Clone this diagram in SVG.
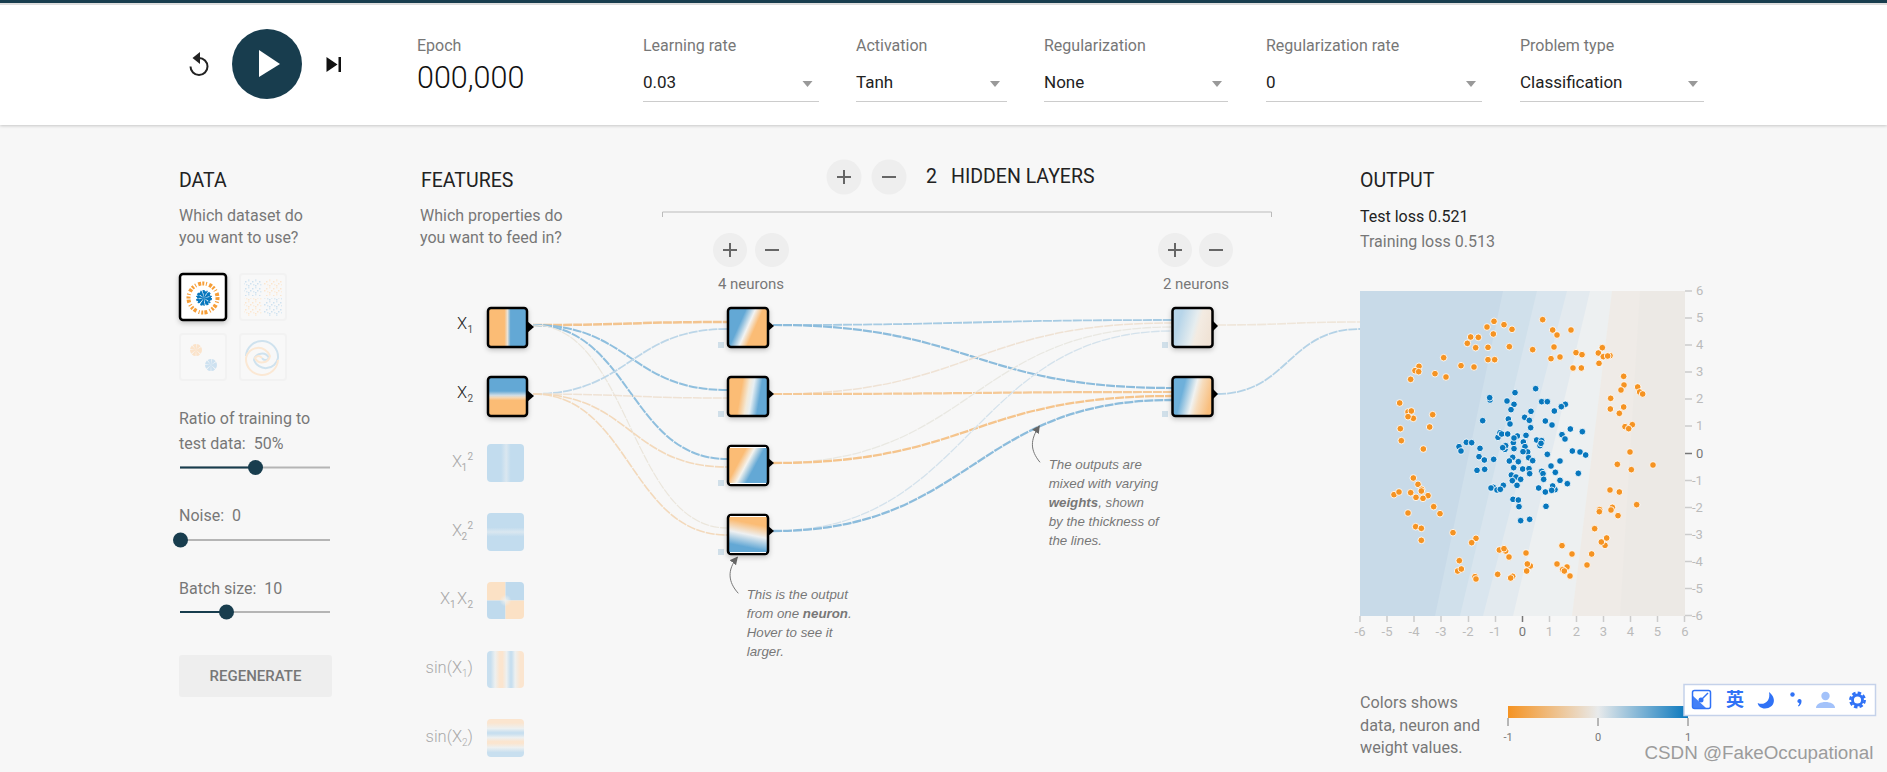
<svg xmlns="http://www.w3.org/2000/svg" width="1887" height="772" viewBox="0 0 1887 772">
<style>
text{font-family:Roboto,"Liberation Sans",sans-serif;fill:#777}
.lab{font-size:16px}
.val{font-size:17px;fill:#222}
.title{font-size:19.500px;fill:#222}
.sub{font-size:16px}
.ul{stroke:#ccc;stroke-width:1}
.ar{fill:#999}
.btn{fill:#eee}
.pm{stroke:#666;stroke-width:2}
.node{stroke:#000;stroke-width:2.5}
.tip{fill:#000}
.sq{fill:#d0dfe9}
.fl{font-size:16.500px;fill:#aaa;font-weight:300}
.fs{font-size:10px;fill:#aaa}
.on{fill:#222}
.note{font-family:"Liberation Sans",sans-serif;font-size:13.300px;font-style:italic;fill:#777}
.note tspan.w{font-weight:700}
.cl{fill:none;stroke:#777;stroke-width:1}
.lk{fill:none;stroke-dasharray:9 1}
.ax{font-size:13px;fill:#bbb}
.tk{stroke:#ccc;stroke-width:1.5}
.o{fill:#f59322;stroke:#fff;stroke-width:3;stroke-opacity:.85}
.b{fill:#0877bd;stroke:#fff;stroke-width:3;stroke-opacity:.85}
.wi{fill:#3072f6}
.leg{font-size:16.200px}
.lt{font-size:11px;text-anchor:middle}
.th{fill:#f8f8f8;stroke:#f2f2f2;stroke-width:2}
</style>
<defs>
<filter id="sh" x="-30%" y="-30%" width="160%" height="170%"><feDropShadow dx="0" dy="2" stdDeviation="2.5" flood-color="#000" flood-opacity=".22"/></filter>
<filter id="hs" x="-5%" y="-20%" width="110%" height="150%"><feDropShadow dx="0" dy="1" stdDeviation="1.5" flood-color="#000" flood-opacity=".2"/></filter>
<linearGradient id="gx1" x1="0" y1="0" x2="1" y2="0"><stop offset=".42" stop-color="#fbbc75"/><stop offset=".5" stop-color="#e8e2d8"/><stop offset=".58" stop-color="#63a8d5"/></linearGradient>
<linearGradient id="gx2" x1="0" y1="0" x2="0" y2="1"><stop offset=".36" stop-color="#63a8d5"/><stop offset=".47" stop-color="#cfdde6"/><stop offset=".53" stop-color="#f6d7b3"/><stop offset=".6" stop-color="#fbbc75"/></linearGradient>
<linearGradient id="ga" x1=".025" y1=".3" x2=".945" y2=".7"><stop offset=".28" stop-color="#63a8d5"/><stop offset=".5" stop-color="#f2f3f2"/><stop offset=".68" stop-color="#fbbc75"/></linearGradient>
<linearGradient id="gb" x1=".03" y1=".42" x2="1" y2=".58"><stop offset=".28" stop-color="#fbbc75"/><stop offset=".47" stop-color="#f3ead9"/><stop offset=".58" stop-color="#e6eff3"/><stop offset=".78" stop-color="#63a8d5"/></linearGradient>
<linearGradient id="gc" x1="0" y1=".27" x2=".88" y2=".73"><stop offset=".3" stop-color="#fbbc75"/><stop offset=".5" stop-color="#f4f3ee"/><stop offset=".72" stop-color="#63a8d5"/></linearGradient>
<linearGradient id="gd" x1=".6" y1="0" x2=".4" y2=".96"><stop offset=".22" stop-color="#fbbc75"/><stop offset=".52" stop-color="#eef0f1"/><stop offset=".85" stop-color="#63a8d5"/></linearGradient>
<linearGradient id="ge" x1=".06" y1=".37" x2="1" y2=".63"><stop offset=".1" stop-color="#b7d5e9"/><stop offset=".5" stop-color="#e6edef"/><stop offset=".62" stop-color="#f3ebe2"/><stop offset=".95" stop-color="#f0e3d6"/></linearGradient>
<linearGradient id="gf" x1=".04" y1=".38" x2="1" y2=".62"><stop offset=".2" stop-color="#6eb0da"/><stop offset=".5" stop-color="#f0f2f1"/><stop offset=".65" stop-color="#f7dcbc"/><stop offset=".95" stop-color="#f9be7d"/></linearGradient>
<linearGradient id="gs1" x1="0" y1="0" x2="1" y2="0"><stop offset=".38" stop-color="#c2dcee"/><stop offset=".52" stop-color="#dae7f0"/><stop offset=".64" stop-color="#c2dcee"/></linearGradient>
<linearGradient id="gs2" x1="0" y1="0" x2="0" y2="1"><stop offset=".38" stop-color="#c2dcee"/><stop offset=".5" stop-color="#dae7f0"/><stop offset=".62" stop-color="#c2dcee"/></linearGradient>
<linearGradient id="gs3" x1="0" y1="0" x2="1" y2="0"><stop offset=".1" stop-color="#c8dfef"/><stop offset=".22" stop-color="#edf0f0"/><stop offset=".34" stop-color="#fbe5cf"/><stop offset=".42" stop-color="#fbe5cf"/><stop offset=".53" stop-color="#edf0f0"/><stop offset=".63" stop-color="#c8dfef"/><stop offset=".67" stop-color="#c8dfef"/><stop offset=".76" stop-color="#edf0f0"/><stop offset=".9" stop-color="#fbe5cf"/></linearGradient>
<linearGradient id="gs4" x1="0" y1="0" x2="0" y2="1"><stop offset=".1" stop-color="#fbe5cf"/><stop offset=".25" stop-color="#edf0f0"/><stop offset=".35" stop-color="#c8dfef"/><stop offset=".39" stop-color="#c8dfef"/><stop offset=".49" stop-color="#edf0f0"/><stop offset=".59" stop-color="#fbe5cf"/><stop offset=".64" stop-color="#fbe5cf"/><stop offset=".75" stop-color="#edf0f0"/><stop offset=".88" stop-color="#c8dfef"/></linearGradient>
<radialGradient id="gcc"><stop offset="0" stop-color="#eef0ee"/><stop offset="1" stop-color="#eef0ee" stop-opacity="0"/></radialGradient>
<linearGradient id="leg" x1="0" y1="0" x2="1" y2="0"><stop offset="0" stop-color="#f59322"/><stop offset=".5" stop-color="#e8eaeb"/><stop offset="1" stop-color="#0877bd"/></linearGradient>
<clipPath id="cp"><rect x="487" y="582" width="37" height="37" rx="4"/></clipPath>
<pattern id="pb" width="7" height="7" patternUnits="userSpaceOnUse"><rect x="0" y="1" width="1.5" height="1.5" fill="#cfe2f0"/><rect x="3" y="0" width="1.5" height="1.5" fill="#dbe9f3"/><rect x="5" y="3" width="1.5" height="1.5" fill="#cfe2f0"/><rect x="1" y="4" width="1.5" height="1.5" fill="#dbe9f3"/><rect x="3" y="5" width="1.5" height="1.5" fill="#cfe2f0"/></pattern>
<pattern id="po" width="7" height="7" patternUnits="userSpaceOnUse"><rect x="0" y="1" width="1.5" height="1.5" fill="#fbe6cf"/><rect x="3" y="0" width="1.5" height="1.5" fill="#fceedd"/><rect x="5" y="3" width="1.5" height="1.5" fill="#fbe6cf"/><rect x="1" y="4" width="1.5" height="1.5" fill="#fceedd"/><rect x="3" y="5" width="1.5" height="1.5" fill="#fbe6cf"/></pattern>
<marker id="ah" markerWidth="9" markerHeight="9" refX="7" refY="4" orient="auto" markerUnits="userSpaceOnUse"><path d="M0 0L8 4L0 8Z" fill="#666"/></marker>
</defs>
<rect width="1887" height="772" fill="#f7f7f7"/>
<g id="header">
<rect width="1887" height="125" fill="#fff" filter="url(#hs)"/>
<rect width="1887" height="3" fill="#183d4e"/>
<rect y="3" width="1887" height="2" fill="#ddd"/>
<path d="M199 58A8.5 8.5 0 1 1 190.5 66.5" fill="none" stroke="#222" stroke-width="2"/>
<path d="M200 52L192.5 58L200 64Z" fill="#222"/>
<circle cx="267" cy="64" r="35" fill="#183d4e"/>
<path d="M259 50L280 64L259 77Z" fill="#fff"/>
<path d="M326.500 57L337.500 64.500L326.500 72Z" fill="#111"/><rect x="338.500" y="57" width="2.500" height="15" fill="#111"/>
<text class="lab" x="417" y="51">Epoch</text>
<text x="417" y="88" style="font-size:30.500px;font-weight:300;fill:#111">000,000</text>
<text class="lab" x="643" y="51">Learning rate</text><text class="val" x="643" y="88">0.03</text><line class="ul" x1="643" y1="101.500" x2="819" y2="101.500"/><path class="ar" d="M802.500 81H812.500L807.500 87Z"/>
<text class="lab" x="856" y="51">Activation</text><text class="val" x="856" y="88">Tanh</text><line class="ul" x1="856" y1="101.500" x2="1007" y2="101.500"/><path class="ar" d="M990 81H1000L995 87Z"/>
<text class="lab" x="1044" y="51">Regularization</text><text class="val" x="1044" y="88">None</text><line class="ul" x1="1044" y1="101.500" x2="1228" y2="101.500"/><path class="ar" d="M1212 81H1222L1217 87Z"/>
<text class="lab" x="1266" y="51">Regularization rate</text><text class="val" x="1266" y="88">0</text><line class="ul" x1="1266" y1="101.500" x2="1482" y2="101.500"/><path class="ar" d="M1466 81H1476L1471 87Z"/>
<text class="lab" x="1520" y="51">Problem type</text><text class="val" x="1520" y="88">Classification</text><line class="ul" x1="1520" y1="101.500" x2="1704" y2="101.500"/><path class="ar" d="M1688 81H1698L1693 87Z"/>
</g>
<g id="data-panel">
<text class="title" x="179" y="187">DATA</text>
<text class="sub" x="179" y="221">Which dataset do</text>
<text class="sub" x="179" y="243">you want to use?</text>
<g id="thumb-circle">
<rect x="180" y="274" width="46" height="46" rx="3" fill="#fff" stroke="#000" stroke-width="2.500" filter="url(#sh)"/>
<circle cx="203" cy="298" r="14.500" fill="none" stroke="#f59322" stroke-width="4" stroke-dasharray="2 1.700 1 2.300 3 1.200" opacity=".9"/>
<circle cx="204" cy="298" r="3.500" fill="none" stroke="#0877bd" stroke-width="7" stroke-dasharray="2 .6"/>
<circle cx="204" cy="298" r="6.500" fill="none" stroke="#0877bd" stroke-width="3" stroke-dasharray="2 1.700 1 1"/>
</g>
<g id="thumb-xor">
<rect class="th" x="240" y="274" width="46" height="46" rx="3"/>
<rect x="244" y="279" width="18" height="17" fill="url(#pb)"/><rect x="264" y="279" width="18" height="17" fill="url(#po)"/>
<rect x="244" y="298" width="18" height="18" fill="url(#po)"/><rect x="264" y="298" width="18" height="18" fill="url(#pb)"/>
</g>
<g id="thumb-gauss">
<rect class="th" x="180" y="334" width="46" height="46" rx="3"/>
<circle cx="196" cy="350" r="3" fill="none" stroke="#fbe3ca" stroke-width="6" stroke-dasharray="2 .4"/>
<circle cx="211" cy="365" r="3" fill="none" stroke="#cde1f0" stroke-width="6" stroke-dasharray="2 .4"/>
</g>
<g id="thumb-spiral">
<rect class="th" x="240" y="334" width="46" height="46" rx="3"/>
<path d="M246 356A16 16 0 0 1 278 358A12.500 12.500 0 0 1 254 360A8 8 0 0 1 269 358A4 4 0 0 1 262 358" fill="none" stroke="#cfe2ee" stroke-width="2"/>
<path d="M246 356A16 16 0 0 1 278 358A12.500 12.500 0 0 1 254 360A8 8 0 0 1 269 358A4 4 0 0 1 262 358" fill="none" stroke="#fbe8d4" stroke-width="2" transform="rotate(180 262 358)"/>
</g>
<text class="sub" x="179" y="424">Ratio of training to</text>
<text class="sub" x="179" y="449" xml:space="preserve">test data:  50%</text>
<line x1="180" y1="467.500" x2="330" y2="467.500" stroke="#b5b5b5" stroke-width="2"/><line x1="180" y1="467.500" x2="255" y2="467.500" stroke="#183d4e" stroke-width="2"/><circle cx="255.500" cy="467.500" r="7.500" fill="#183d4e"/>
<text class="sub" x="179" y="521" xml:space="preserve">Noise:  0</text>
<line x1="180" y1="540" x2="330" y2="540" stroke="#b5b5b5" stroke-width="2"/><circle cx="180.500" cy="540" r="7.500" fill="#183d4e"/>
<text class="sub" x="179" y="594" xml:space="preserve">Batch size:  10</text>
<line x1="180" y1="612" x2="330" y2="612" stroke="#b5b5b5" stroke-width="2"/><line x1="180" y1="612" x2="226" y2="612" stroke="#183d4e" stroke-width="2"/><circle cx="226.500" cy="612" r="7.500" fill="#183d4e"/>
<rect x="179" y="655" width="153" height="42" rx="3" fill="#eee"/>
<text x="255.500" y="681" text-anchor="middle" style="font-size:15px;font-weight:500">REGENERATE</text>
</g>
<g id="features-head">
<text class="title" x="421" y="187">FEATURES</text>
<text class="sub" x="420" y="221">Which properties do</text>
<text class="sub" x="420" y="243">you want to feed in?</text>
</g>
<g id="layers-head">
<circle class="btn" cx="844" cy="177" r="17.500"/><path class="pm" d="M837 177H851M844 170V184"/>
<circle class="btn" cx="889" cy="177" r="17.500"/><path class="pm" d="M882 177H896"/>
<text class="title" x="926" y="183">2</text>
<text class="title" x="951" y="183">HIDDEN LAYERS</text>
<path d="M662.500 217V212H1271.500V217" fill="none" stroke="#bbb" stroke-width="1"/>
<circle class="btn" cx="730" cy="250" r="17"/><path class="pm" d="M723 250H737M730 243V257"/>
<circle class="btn" cx="772" cy="250" r="17"/><path class="pm" d="M765 250H779"/>
<text x="751" y="289" text-anchor="middle" style="font-size:15px">4 neurons</text>
<circle class="btn" cx="1175" cy="250" r="17"/><path class="pm" d="M1168 250H1182M1175 243V257"/>
<circle class="btn" cx="1216" cy="250" r="17"/><path class="pm" d="M1209 250H1223"/>
<text x="1196" y="289" text-anchor="middle" style="font-size:15px">2 neurons</text>
</g>
<g id="connectors">
<path class="lk" stroke="#f3c48f" stroke-width="2.500" d="M533 325C630 325 630 322 727 322"/>
<path class="lk" stroke="#8fbfde" stroke-width="2" d="M533 325C630 325 630 390 727 390"/>
<path class="lk" stroke="#8fbfde" stroke-width="2" d="M533 325C630 325 630 459 727 459"/>
<path class="lk" stroke="#ebe6dc" stroke-width="1.200" d="M533 325C630 325 630 528 727 528"/>
<path class="lk" stroke="#bcd6e8" stroke-width="1.800" d="M533 394C630 394 630 329 727 329"/>
<path class="lk" stroke="#efe2d4" stroke-width="1.500" d="M533 394C630 394 630 398 727 398"/>
<path class="lk" stroke="#f3d9bb" stroke-width="1.600" d="M533 394C630 394 630 467 727 467"/>
<path class="lk" stroke="#f3d9bb" stroke-width="1.600" d="M533 394C630 394 630 535 727 535"/>
<path class="lk" stroke="#a6cbe3" stroke-width="1.800" d="M773 325C972 325 972 320 1172 320"/>
<path class="lk" stroke="#8cbcdc" stroke-width="2.200" d="M773 325C972 325 972 388 1172 388"/>
<path class="lk" stroke="#efe2d4" stroke-width="1.500" d="M773 394C972 394 972 323 1172 323"/>
<path class="lk" stroke="#f5c997" stroke-width="2.200" d="M773 394C972 394 972 392 1172 392"/>
<path class="lk" stroke="#e9e8e2" stroke-width="1.300" d="M773 463C972 463 972 327 1172 327"/>
<path class="lk" stroke="#f5c48c" stroke-width="2.300" d="M773 463C972 463 972 396 1172 396"/>
<path class="lk" stroke="#d4e2ec" stroke-width="1.300" d="M773 531C972 531 972 331 1172 331"/>
<path class="lk" stroke="#8cbcdc" stroke-width="2.300" d="M773 531C972 531 972 400 1172 400"/>
<path class="lk" stroke="#efe6da" stroke-width="1.600" d="M1217 325C1288 325 1288 322 1360 322"/>
<path class="lk" stroke="#b4d2e6" stroke-width="1.800" d="M1217 394C1288 394 1288 329 1360 329"/>
<path class="cl" marker-end="url(#ah)" d="M738.300 593.300C728 582 727 570 737.300 557.300"/>
<path class="cl" marker-end="url(#ah)" d="M1040 462.300C1030 450 1030 440 1039.300 426"/>
</g>
<g id="node-x1"><text class="fl on" x="467" y="329" text-anchor="end">X</text><text class="fs on" x="473" y="333" text-anchor="end" style="fill:#555">1</text>
<path class="tip" d="M527 321L534 327L527 333Z"/><rect class="node" x="488" y="308" width="39" height="39" rx="3" fill="url(#gx1)" filter="url(#sh)"/></g>
<g id="node-x2"><text class="fl on" x="467" y="398" text-anchor="end">X</text><text class="fs on" x="473" y="402" text-anchor="end" style="fill:#555">2</text>
<path class="tip" d="M527 390L534 396L527 402Z"/><rect class="node" x="488" y="377" width="39" height="39" rx="3" fill="url(#gx2)" filter="url(#sh)"/></g>
<g id="node-x1sq"><text class="fl" x="462" y="467" text-anchor="end">X</text><text class="fs" x="467" y="471" text-anchor="end">1</text><text class="fs" x="473" y="460" text-anchor="end">2</text>
<rect x="487" y="444" width="37" height="38" rx="4" fill="url(#gs1)"/></g>
<g id="node-x2sq"><text class="fl" x="462" y="536" text-anchor="end">X</text><text class="fs" x="467" y="540" text-anchor="end">2</text><text class="fs" x="473" y="529" text-anchor="end">2</text>
<rect x="487" y="513" width="37" height="38" rx="4" fill="url(#gs2)"/></g>
<g id="node-x1x2"><text class="fl" x="450" y="604" text-anchor="end">X</text><text class="fs" x="455.500" y="608" text-anchor="end">1</text><text class="fl" x="467" y="604" text-anchor="end">X</text><text class="fs" x="473" y="608" text-anchor="end">2</text>
<g clip-path="url(#cp)"><rect x="487" y="582" width="18.500" height="18.500" fill="#fbe1c5"/><rect x="505.500" y="582" width="18.500" height="18.500" fill="#bfdaed"/><rect x="487" y="600.500" width="18.500" height="18.500" fill="#bfdaed"/><rect x="505.500" y="600.500" width="18.500" height="18.500" fill="#fbe1c5"/><circle cx="505.500" cy="600.500" r="6" fill="url(#gcc)"/></g></g>
<g id="node-sinx1"><text class="fl" x="473" y="673" text-anchor="end">sin(X<tspan dy="4" font-size="10">1</tspan><tspan dy="-4">)</tspan></text>
<rect x="487" y="651" width="37" height="37" rx="4" fill="url(#gs3)"/></g>
<g id="node-sinx2"><text class="fl" x="473" y="742" text-anchor="end">sin(X<tspan dy="4" font-size="10">2</tspan><tspan dy="-4">)</tspan></text>
<rect x="487" y="719" width="37" height="38" rx="4" fill="url(#gs4)"/></g>
<g id="neuron-1-1"><rect class="sq" x="718" y="342" width="6" height="6"/><path class="tip" d="M767 320L774 326L767 332Z"/><rect class="node" x="728" y="308" width="40" height="39" rx="3" fill="url(#ga)" filter="url(#sh)"/></g>
<g id="neuron-1-2"><rect class="sq" x="718" y="411" width="6" height="6"/><path class="tip" d="M767 388L774 394L767 400Z"/><rect class="node" x="728" y="377" width="40" height="39" rx="3" fill="url(#gb)" filter="url(#sh)"/></g>
<g id="neuron-1-3"><rect class="sq" x="718" y="480" width="6" height="6"/><path class="tip" d="M767 457L774 463L767 469Z"/><rect class="node" x="728" y="446" width="40" height="39" rx="3" fill="url(#gc)" filter="url(#sh)"/><path d="M730 447.500H766M730 483.500H766" stroke="#fff"/></g>
<g id="neuron-1-4"><rect class="sq" x="718" y="549" width="6" height="6"/><path class="tip" d="M767 525L774 531L767 537Z"/><rect class="node" x="728" y="515" width="40" height="39" rx="3" fill="url(#gd)" filter="url(#sh)"/><path d="M730 516.500H766M730 552.500H766" stroke="#fff"/></g>
<g id="neuron-2-1"><rect class="sq" x="1162" y="342" width="6" height="6"/><path class="tip" d="M1212 320L1218 326L1212 332Z"/><rect class="node" x="1172.500" y="308" width="40" height="39" rx="3" fill="url(#ge)" filter="url(#sh)"/></g>
<g id="neuron-2-2"><rect class="sq" x="1162" y="411" width="6" height="6"/><path class="tip" d="M1212 388L1218 394L1212 400Z"/><rect class="node" x="1172.500" y="377" width="40" height="39" rx="3" fill="url(#gf)" filter="url(#sh)"/></g>
<g id="callouts">
<text class="note"><tspan x="746.700" y="599">This is the output</tspan><tspan x="746.700" y="618">from one <tspan class="w">neuron</tspan>.</tspan><tspan x="746.700" y="637">Hover to see it</tspan><tspan x="746.700" y="656">larger.</tspan></text>
<text class="note"><tspan x="1048.700" y="469">The outputs are</tspan><tspan x="1048.700" y="488">mixed with varying</tspan><tspan x="1048.700" y="507"><tspan class="w">weights</tspan>, shown</tspan><tspan x="1048.700" y="526">by the thickness of</tspan><tspan x="1048.700" y="545">the lines.</tspan></text>
</g>
<g id="output">
<text class="title" x="1360" y="187">OUTPUT</text>
<text x="1360" y="222" style="font-size:16px;fill:#222">Test loss 0.521</text>
<text x="1360" y="247" style="font-size:16px">Training loss 0.513</text>
<g id="heatmap">
<rect x="1360" y="291" width="325" height="325" fill="#c8dae8"/>
<path d="M1503 291H1685V616H1435Z" fill="#d0e0eb"/>
<path d="M1537 291H1685V616H1460Z" fill="#d9e5ee"/>
<path d="M1567 291H1685V616H1483Z" fill="#e3eaef"/>
<path d="M1590 291H1685V616H1513Z" fill="#edf0f1"/>
<path d="M1612 291H1685V616H1572Z" fill="#efebe7"/>
<path d="M1640 291H1685V616H1620Z" fill="#ece9e5"/>
</g>
<g id="axes">
<g class="tk"><path d="M1685 291h7M1685 318h7M1685 345h7M1685 372h7M1685 399h7M1685 426h7M1685 480.500h7M1685 507.500h7M1685 534.500h7M1685 561.500h7M1685 588.500h7M1685 615.500h7M1360 616v6M1387 616v6M1414 616v6M1441 616v6M1468.500 616v6M1495.500 616v6M1549.500 616v6M1576.500 616v6M1603.500 616v6M1630.500 616v6M1657.500 616v6M1684.500 616v6"/></g>
<path d="M1685 453.500h7M1522.500 616v6" stroke="#777" stroke-width="1.500"/>
<g class="ax">
<text class="ax" x="1696" y="295">6</text><text class="ax" x="1696" y="322">5</text><text class="ax" x="1696" y="349">4</text><text class="ax" x="1696" y="376">3</text><text class="ax" x="1696" y="403">2</text><text class="ax" x="1696" y="430">1</text><text class="ax" x="1696" y="458" style="fill:#777">0</text><text class="ax" x="1692" y="485">-1</text><text class="ax" x="1692" y="512">-2</text><text class="ax" x="1692" y="539">-3</text><text class="ax" x="1692" y="566">-4</text><text class="ax" x="1692" y="593">-5</text><text class="ax" x="1692" y="620">-6</text>
<g text-anchor="middle"><text class="ax" x="1360" y="636">-6</text><text class="ax" x="1387" y="636">-5</text><text class="ax" x="1414" y="636">-4</text><text class="ax" x="1441" y="636">-3</text><text class="ax" x="1468" y="636">-2</text><text class="ax" x="1495" y="636">-1</text><text class="ax" x="1522.500" y="636" style="fill:#777">0</text><text class="ax" x="1549.500" y="636">1</text><text class="ax" x="1576.500" y="636">2</text><text class="ax" x="1603.500" y="636">3</text><text class="ax" x="1630.500" y="636">4</text><text class="ax" x="1657.500" y="636">5</text><text class="ax" x="1685" y="636">6</text></g>
</g>
</g>
<g id="points-top" transform="translate(1340 280) scale(.33333)">
<circle class="o" r="10" cx="462" cy="124"/><circle class="o" r="10" cx="441" cy="141"/><circle class="o" r="10" cx="492" cy="134"/><circle class="o" r="10" cx="516" cy="148"/><circle class="o" r="10" cx="460" cy="162"/><circle class="o" r="10" cx="608" cy="119"/><circle class="o" r="10" cx="638" cy="150"/><circle class="o" r="10" cx="651" cy="165"/><circle class="o" r="10" cx="693" cy="150"/><circle class="o" r="10" cx="392" cy="171"/><circle class="o" r="10" cx="415" cy="172"/><circle class="o" r="10" cx="382" cy="190"/><circle class="o" r="10" cx="407" cy="203"/><circle class="o" r="10" cx="444" cy="202"/><circle class="o" r="10" cx="508" cy="200"/><circle class="o" r="10" cx="578" cy="209"/><circle class="o" r="10" cx="642" cy="201"/><circle class="o" r="10" cx="708" cy="218"/><circle class="o" r="10" cx="726" cy="224"/><circle class="o" r="10" cx="775" cy="219"/><circle class="o" r="10" cx="787" cy="203"/><circle class="o" r="10" cx="790" cy="230"/><circle class="o" r="10" cx="810" cy="227"/><circle class="o" r="10" cx="803" cy="228"/><circle class="o" r="10" cx="777" cy="250"/><circle class="o" r="10" cx="633" cy="236"/><circle class="o" r="10" cx="660" cy="231"/><circle class="o" r="10" cx="444" cy="239"/><circle class="o" r="10" cx="464" cy="239"/><circle class="o" r="10" cx="311" cy="233"/><circle class="o" r="10" cx="363" cy="257"/><circle class="o" r="10" cx="402" cy="261"/><circle class="o" r="10" cx="237" cy="259"/><circle class="o" r="10" cx="225" cy="272"/><circle class="o" r="10" cx="236" cy="275"/><circle class="o" r="10" cx="285" cy="281"/><circle class="o" r="10" cx="318" cy="291"/><circle class="o" r="10" cx="212" cy="298"/><circle class="o" r="10" cx="699" cy="264"/><circle class="o" r="10" cx="724" cy="264"/><circle class="o" r="10" cx="851" cy="289"/><circle class="o" r="10" cx="852" cy="315"/><circle class="o" r="10" cx="843" cy="330"/><circle class="o" r="10" cx="893" cy="321"/><circle class="o" r="10" cx="899" cy="336"/><circle class="o" r="10" cx="908" cy="342"/><circle class="o" r="10" cx="812" cy="355"/><circle class="o" r="10" cx="811" cy="387"/><circle class="o" r="10" cx="851" cy="381"/><circle class="o" r="10" cx="838" cy="400"/><circle class="o" r="10" cx="179" cy="369"/><circle class="o" r="10" cx="204" cy="396"/><circle class="o" r="10" cx="214" cy="393"/><circle class="o" r="10" cx="220" cy="415"/><circle class="o" r="10" cx="204" cy="410"/><circle class="o" r="10" cx="278" cy="404"/><circle class="o" r="10" cx="269" cy="441"/><circle class="o" r="10" cx="181" cy="446"/><circle class="o" r="10" cx="184" cy="482"/><circle class="o" r="10" cx="250" cy="507"/><circle class="o" r="10" cx="855" cy="440"/><circle class="o" r="10" cx="877" cy="434"/><circle class="o" r="10" cx="866" cy="446"/><circle class="o" r="10" cx="870" cy="516"/><circle class="o" r="10" cx="832" cy="553"/><circle class="o" r="10" cx="874" cy="569"/><circle class="o" r="10" cx="939" cy="555"/>
<circle class="b" r="10" cx="525" cy="338"/><circle class="b" r="10" cx="587" cy="326"/><circle class="b" r="10" cx="450" cy="360"/><circle class="b" r="10" cx="449" cy="353"/><circle class="b" r="10" cx="501" cy="363"/><circle class="b" r="10" cx="522" cy="373"/><circle class="b" r="10" cx="513" cy="389"/><circle class="b" r="10" cx="605" cy="365"/><circle class="b" r="10" cx="622" cy="365"/><circle class="b" r="10" cx="676" cy="373"/><circle class="b" r="10" cx="664" cy="380"/><circle class="b" r="10" cx="643" cy="393"/><circle class="b" r="10" cx="573" cy="394"/><circle class="b" r="10" cx="554" cy="412"/><circle class="b" r="10" cx="568" cy="421"/><circle class="b" r="10" cx="505" cy="417"/><circle class="b" r="10" cx="510" cy="432"/><circle class="b" r="10" cx="428" cy="422"/><circle class="b" r="10" cx="616" cy="423"/><circle class="b" r="10" cx="636" cy="435"/><circle class="b" r="10" cx="572" cy="443"/><circle class="b" r="10" cx="691" cy="447"/><circle class="b" r="10" cx="727" cy="455"/><circle class="b" r="10" cx="666" cy="464"/><circle class="b" r="10" cx="675" cy="477"/><circle class="b" r="10" cx="474" cy="472"/><circle class="b" r="10" cx="480" cy="458"/><circle class="b" r="10" cx="485" cy="462"/><circle class="b" r="10" cx="503" cy="462"/><circle class="b" r="10" cx="532" cy="468"/><circle class="b" r="10" cx="558" cy="466"/><circle class="b" r="10" cx="520" cy="488"/><circle class="b" r="10" cx="522" cy="474"/><circle class="b" r="10" cx="550" cy="486"/><circle class="b" r="10" cx="590" cy="480"/><circle class="b" r="10" cx="605" cy="482"/><circle class="b" r="10" cx="600" cy="497"/><circle class="b" r="10" cx="603" cy="490"/><circle class="b" r="10" cx="379" cy="487"/><circle class="b" r="10" cx="395" cy="488"/><circle class="b" r="10" cx="357" cy="500"/><circle class="b" r="10" cx="363" cy="513"/><circle class="b" r="10" cx="420" cy="505"/><circle class="b" r="10" cx="495" cy="508"/><circle class="b" r="10" cx="497" cy="497"/><circle class="b" r="10" cx="488" cy="503"/><circle class="b" r="10" cx="522" cy="506"/><circle class="b" r="10" cx="555" cy="500"/><circle class="b" r="10" cx="563" cy="516"/><circle class="b" r="10" cx="549" cy="515"/><circle class="b" r="10" cx="697" cy="513"/><circle class="b" r="10" cx="720" cy="516"/><circle class="b" r="10" cx="737" cy="525"/><circle class="b" r="10" cx="622" cy="523"/><circle class="b" r="10" cx="417" cy="530"/><circle class="b" r="10" cx="433" cy="540"/><circle class="b" r="10" cx="461" cy="538"/><circle class="b" r="10" cx="518" cy="532"/><circle class="b" r="10" cx="508" cy="543"/><circle class="b" r="10" cx="535" cy="545"/><circle class="b" r="10" cx="566" cy="533"/><circle class="b" r="10" cx="578" cy="542"/><circle class="b" r="10" cx="660" cy="543"/><circle class="b" r="10" cx="633" cy="558"/><circle class="b" r="10" cx="521" cy="563"/><circle class="b" r="10" cx="548" cy="567"/><circle class="b" r="10" cx="567" cy="566"/><circle class="b" r="10" cx="411" cy="571"/><circle class="b" r="10" cx="434" cy="568"/><circle class="b" r="10" cx="605" cy="574"/><circle class="b" r="10" cx="609" cy="581"/><circle class="b" r="10" cx="569" cy="581"/><circle class="b" r="10" cx="646" cy="577"/><circle class="b" r="10" cx="514" cy="585"/><circle class="b" r="10" cx="528" cy="591"/><circle class="b" r="10" cx="517" cy="602"/><circle class="b" r="10" cx="542" cy="598"/><circle class="b" r="10" cx="715" cy="580"/><circle class="b" r="10" cx="611" cy="598"/><circle class="b" r="10" cx="660" cy="601"/><circle class="b" r="10" cx="682" cy="611"/><circle class="b" r="10" cx="490" cy="616"/><circle class="b" r="10" cx="531" cy="616"/><circle class="b" r="10" cx="460" cy="622"/><circle class="b" r="10" cx="453" cy="624"/><circle class="b" r="10" cx="471" cy="630"/><circle class="b" r="10" cx="481" cy="628"/><circle class="b" r="10" cx="596" cy="624"/><circle class="b" r="10" cx="645" cy="629"/><circle class="b" r="10" cx="638" cy="618"/><circle class="b" r="10" cx="635" cy="631"/><circle class="b" r="10" cx="616" cy="636"/>
</g>
<g id="points-bottom" transform="translate(1340 470) scale(.33333)">
<circle class="b" r="10" cx="519" cy="88"/><circle class="b" r="10" cx="535" cy="90"/><circle class="b" r="10" cx="537" cy="110"/><circle class="b" r="10" cx="618" cy="109"/><circle class="b" r="10" cx="542" cy="152"/><circle class="b" r="10" cx="569" cy="148"/>
<circle class="o" r="10" cx="220" cy="24"/><circle class="o" r="10" cx="234" cy="43"/><circle class="o" r="10" cx="245" cy="58"/><circle class="o" r="10" cx="244" cy="63"/><circle class="o" r="10" cx="162" cy="74"/><circle class="o" r="10" cx="177" cy="66"/><circle class="o" r="10" cx="212" cy="68"/><circle class="o" r="10" cx="264" cy="77"/><circle class="o" r="10" cx="228" cy="82"/><circle class="o" r="10" cx="249" cy="85"/><circle class="o" r="10" cx="281" cy="110"/><circle class="o" r="10" cx="300" cy="131"/><circle class="o" r="10" cx="204" cy="129"/><circle class="o" r="10" cx="227" cy="170"/><circle class="o" r="10" cx="244" cy="175"/><circle class="o" r="10" cx="244" cy="211"/><circle class="o" r="10" cx="339" cy="188"/><circle class="o" r="10" cx="408" cy="205"/><circle class="o" r="10" cx="395" cy="218"/><circle class="o" r="10" cx="478" cy="240"/><circle class="o" r="10" cx="497" cy="243"/><circle class="o" r="10" cx="492" cy="236"/><circle class="o" r="10" cx="507" cy="261"/><circle class="o" r="10" cx="358" cy="272"/><circle class="o" r="10" cx="353" cy="303"/><circle class="o" r="10" cx="364" cy="297"/><circle class="o" r="10" cx="405" cy="320"/><circle class="o" r="10" cx="408" cy="327"/><circle class="o" r="10" cx="473" cy="313"/><circle class="o" r="10" cx="518" cy="319"/><circle class="o" r="10" cx="512" cy="324"/><circle class="o" r="10" cx="558" cy="249"/><circle class="o" r="10" cx="571" cy="288"/><circle class="o" r="10" cx="562" cy="282"/><circle class="o" r="10" cx="560" cy="303"/><circle class="o" r="10" cx="666" cy="227"/><circle class="o" r="10" cx="696" cy="252"/><circle class="o" r="10" cx="651" cy="282"/><circle class="o" r="10" cx="681" cy="291"/><circle class="o" r="10" cx="668" cy="299"/><circle class="o" r="10" cx="673" cy="303"/><circle class="o" r="10" cx="690" cy="318"/><circle class="o" r="10" cx="741" cy="285"/><circle class="o" r="10" cx="755" cy="252"/><circle class="o" r="10" cx="764" cy="176"/><circle class="o" r="10" cx="795" cy="226"/><circle class="o" r="10" cx="784" cy="216"/><circle class="o" r="10" cx="800" cy="204"/><circle class="o" r="10" cx="779" cy="119"/><circle class="o" r="10" cx="778" cy="125"/><circle class="o" r="10" cx="817" cy="112"/><circle class="o" r="10" cx="813" cy="120"/><circle class="o" r="10" cx="834" cy="137"/><circle class="o" r="10" cx="890" cy="104"/><circle class="o" r="10" cx="810" cy="60"/><circle class="o" r="10" cx="838" cy="66"/>
</g>
</g>
<g id="legend">
<text class="leg" x="1360" y="708">Colors shows</text>
<text class="leg" x="1360" y="731">data, neuron and</text>
<text class="leg" x="1360" y="753">weight values.</text>
<rect x="1508" y="706" width="180" height="12" fill="url(#leg)"/>
<path d="M1508 718v8M1598 718v8M1688 718v8" stroke="#777" stroke-width="1"/>
<text class="lt" x="1508" y="741">-1</text><text class="lt" x="1598" y="741">0</text><text class="lt" x="1688" y="741">1</text>
</g>
<g id="toolbar">
<rect x="1684" y="684.500" width="191.500" height="31" fill="#fff" stroke="#c5d2ea" stroke-width="1.500"/>
<rect x="1692.500" y="690.500" width="18" height="18" rx="2" fill="none" stroke="#3072f6" stroke-width="1.500"/>
<path class="wi" d="M1692 695L1692 708H1706Z" opacity=".9"/>
<circle class="wi" cx="1701" cy="700" r="2.500"/><path d="M1701 700L1708 693" stroke="#3072f6" stroke-width="1.500"/>
<text x="1735" y="706" text-anchor="middle" style="font-family:'Noto Sans CJK SC',sans-serif;font-size:18px;font-weight:700;fill:#3072f6">英</text>
<path class="wi" d="M1769 692C1777 698 1775 708 1765 708.500C1761 708.500 1758 706 1757.700 703C1764 706 1771 701 1769 692Z"/>
<circle class="wi" cx="1792.500" cy="694.500" r="2.200"/>
<path class="wi" d="M1797.500 700.500a2 2 0 0 1 4 1c0 2.500-1.500 4-3 5l-.5-.8c.8-.8 1.300-1.700 1.300-2.700a2 2 0 0 1-1.800-2.500Z"/>
<circle cx="1825.500" cy="696" r="4.200" fill="#a3c2fa"/><path d="M1816 708C1816 700 1835 700 1835 708Z" fill="#a3c2fa"/>
<circle cx="1857.500" cy="700" r="5" fill="none" stroke="#3072f6" stroke-width="2.800"/><circle cx="1857.500" cy="700" r="7.200" fill="none" stroke="#3072f6" stroke-width="2.500" stroke-dasharray="3.500 2.150"/>
</g>
<text id="watermark" x="1644.500" y="759" style="font-family:'Liberation Sans',sans-serif;font-size:18.800px;fill:#9c9c9c">CSDN @FakeOccupational</text>
</svg>
